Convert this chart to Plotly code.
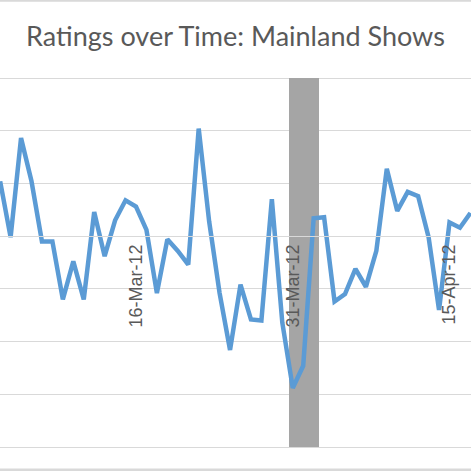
import pandas as pd
import plotly.graph_objects as go

# ---- data ----
start_date = "2012-03-03"
ratings = [2.52, 1.99, 2.93, 2.52, 1.95, 1.95, 1.40, 1.76, 1.40, 2.23,
           1.81, 2.15, 2.34, 2.28, 2.06, 1.46, 1.97, 1.86, 1.73, 3.02,
           2.14, 1.46, 0.92, 1.54, 1.21, 1.20, 2.35, 1.18, 0.56, 0.77,
           2.17, 2.18, 1.38, 1.45, 1.69, 1.52, 1.86, 2.64, 2.24, 2.42,
           2.38, 1.99, 1.30, 2.13, 2.08, 2.22]
dates = pd.date_range(start_date, periods=len(ratings), freq="D")

tick_dates = ["2012-03-16", "2012-03-31", "2012-04-15"]
tick_labels = ["16-Mar-12", "31-Mar-12", "15-Apr-12"]

band_center = ["2012-04-01 02:00"]
band_height = [3.5]
band_days = 2.87

y_max = 3.5
y_step = 0.5
axis_cross = 2.0
pad = 0.019

TOP, BOT = 76, 22
PH = 471 - TOP - BOT

fig = go.Figure()
fig.add_trace(go.Bar(
    x=pd.to_datetime(band_center), y=band_height,
    width=[band_days * 86400000],
    marker=dict(color="#A5A5A5", line=dict(width=0)),
    hoverinfo="skip", showlegend=False,
))
fig.add_trace(go.Scatter(
    x=dates, y=ratings, mode="lines",
    line=dict(color="#5B9BD5", width=4.5),
    showlegend=False,
))

fig.update_layout(
    width=471, height=471,
    margin=dict(l=0, r=0, t=TOP, b=BOT),
    paper_bgcolor="white", plot_bgcolor="white",
    title=dict(text="Ratings over Time: Mainland Shows",
               font=dict(family="Lato", size=27, color="#595959"),
               x=0.5, xanchor="center", xref="paper",
               y=1 - 37 / 471, yanchor="middle", yref="container"),
    bargap=0,
    shapes=[
        dict(type="line", xref="paper", yref="paper", x0=-0.01, x1=1.01,
             y0=(471 - BOT - 0.8) / PH, y1=(471 - BOT - 0.8) / PH,
             line=dict(color="#D9D9D9", width=2)),
        dict(type="line", xref="paper", yref="paper", x0=-0.01, x1=1.01,
             y0=-(469.8 - (471 - BOT)) / PH, y1=-(469.8 - (471 - BOT)) / PH,
             line=dict(color="#D9D9D9", width=2.5)),
    ],
)

fig.update_xaxes(
    type="date",
    range=["2012-03-02 23:40", "2012-04-17 01:22"],
    tickvals=pd.to_datetime(tick_dates), ticktext=tick_labels,
    tickangle=-90,
    tickfont=dict(family="Liberation Sans", size=18, color="#595959"),
    showgrid=False, zeroline=False,
    showline=True, linecolor="#D9D9D9", linewidth=1.3,
    ticks="",
    anchor="free", position=(axis_cross + pad) / (y_max + 2 * pad),
)
fig.update_yaxes(
    range=[-pad, y_max + pad], dtick=y_step, tick0=0,
    showgrid=True, gridcolor="#D9D9D9", gridwidth=1.3,
    showticklabels=False, zeroline=False, showline=False, ticks="",
)

fig.write_html("out.html")
